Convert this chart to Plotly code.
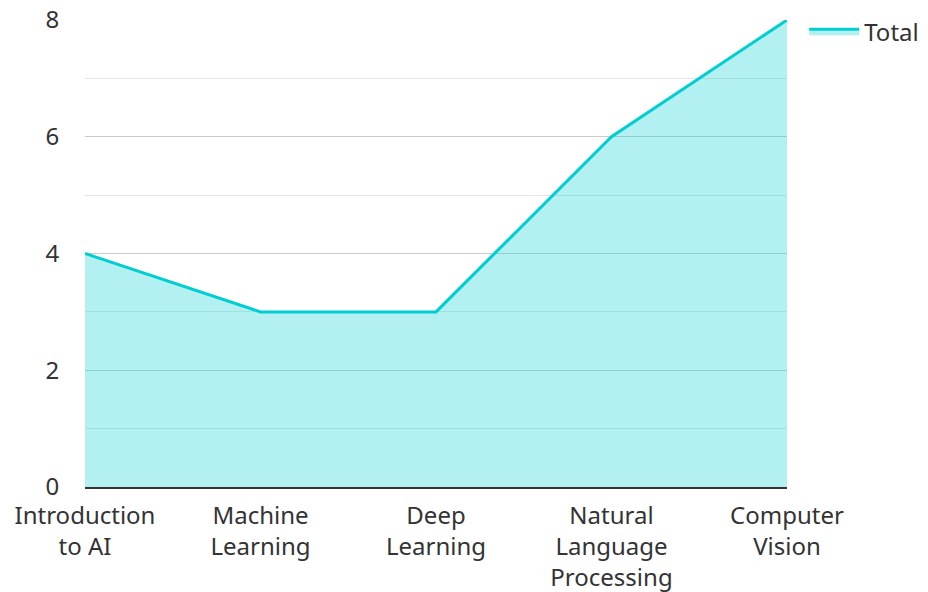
import plotly.graph_objects as go

categories = ["Introduction<br>to AI", "Machine<br>Learning", "Deep<br>Learning",
              "Natural<br>Language<br>Processing", "Computer<br>Vision"]
totals = [4, 3, 3, 6, 8]

FS = 24

fig = go.Figure()
fig.add_trace(go.Scatter(
    x=categories, y=totals, name="Total", mode="lines",
    line=dict(color="#00CED1", width=3),
    fill="tozeroy", fillcolor="rgba(0,206,209,0.3)",
))

fig.update_layout(
    width=920, height=584,
    margin=dict(l=77, r=141, t=12, b=105, autoexpand=False),
    paper_bgcolor="white", plot_bgcolor="white",
    font=dict(family="Noto Sans", size=FS, color="#333333"),
    showlegend=True,
    legend=dict(x=1.0245, y=1.0231, xanchor="left", yanchor="top",
                itemwidth=50,
                font=dict(size=FS, color="#333333"), bgcolor="rgba(0,0,0,0)"),
    xaxis=dict(
        type="category", range=[0, 4], showgrid=False,
        showline=True, linecolor="#333333", linewidth=2,
        ticks="", tickfont=dict(size=FS, color="#333333"),
        ticklabelstandoff=6, automargin=False,
        fixedrange=True,
    ),
    yaxis=dict(
        range=[0, 8], dtick=2, tick0=0, showgrid=True,
        gridcolor="#cccccc", gridwidth=1, zeroline=False,
        showline=False, ticks="outside", ticklen=20, tickcolor="rgba(0,0,0,0)",
        tickfont=dict(size=FS, color="#333333"),
        ticklabeloverflow="allow", automargin=False,
        minor=dict(dtick=1, showgrid=True, gridcolor="#e6e6e6", gridwidth=1),
        layer="above traces",
    ),
)

fig.write_html("out.html")
